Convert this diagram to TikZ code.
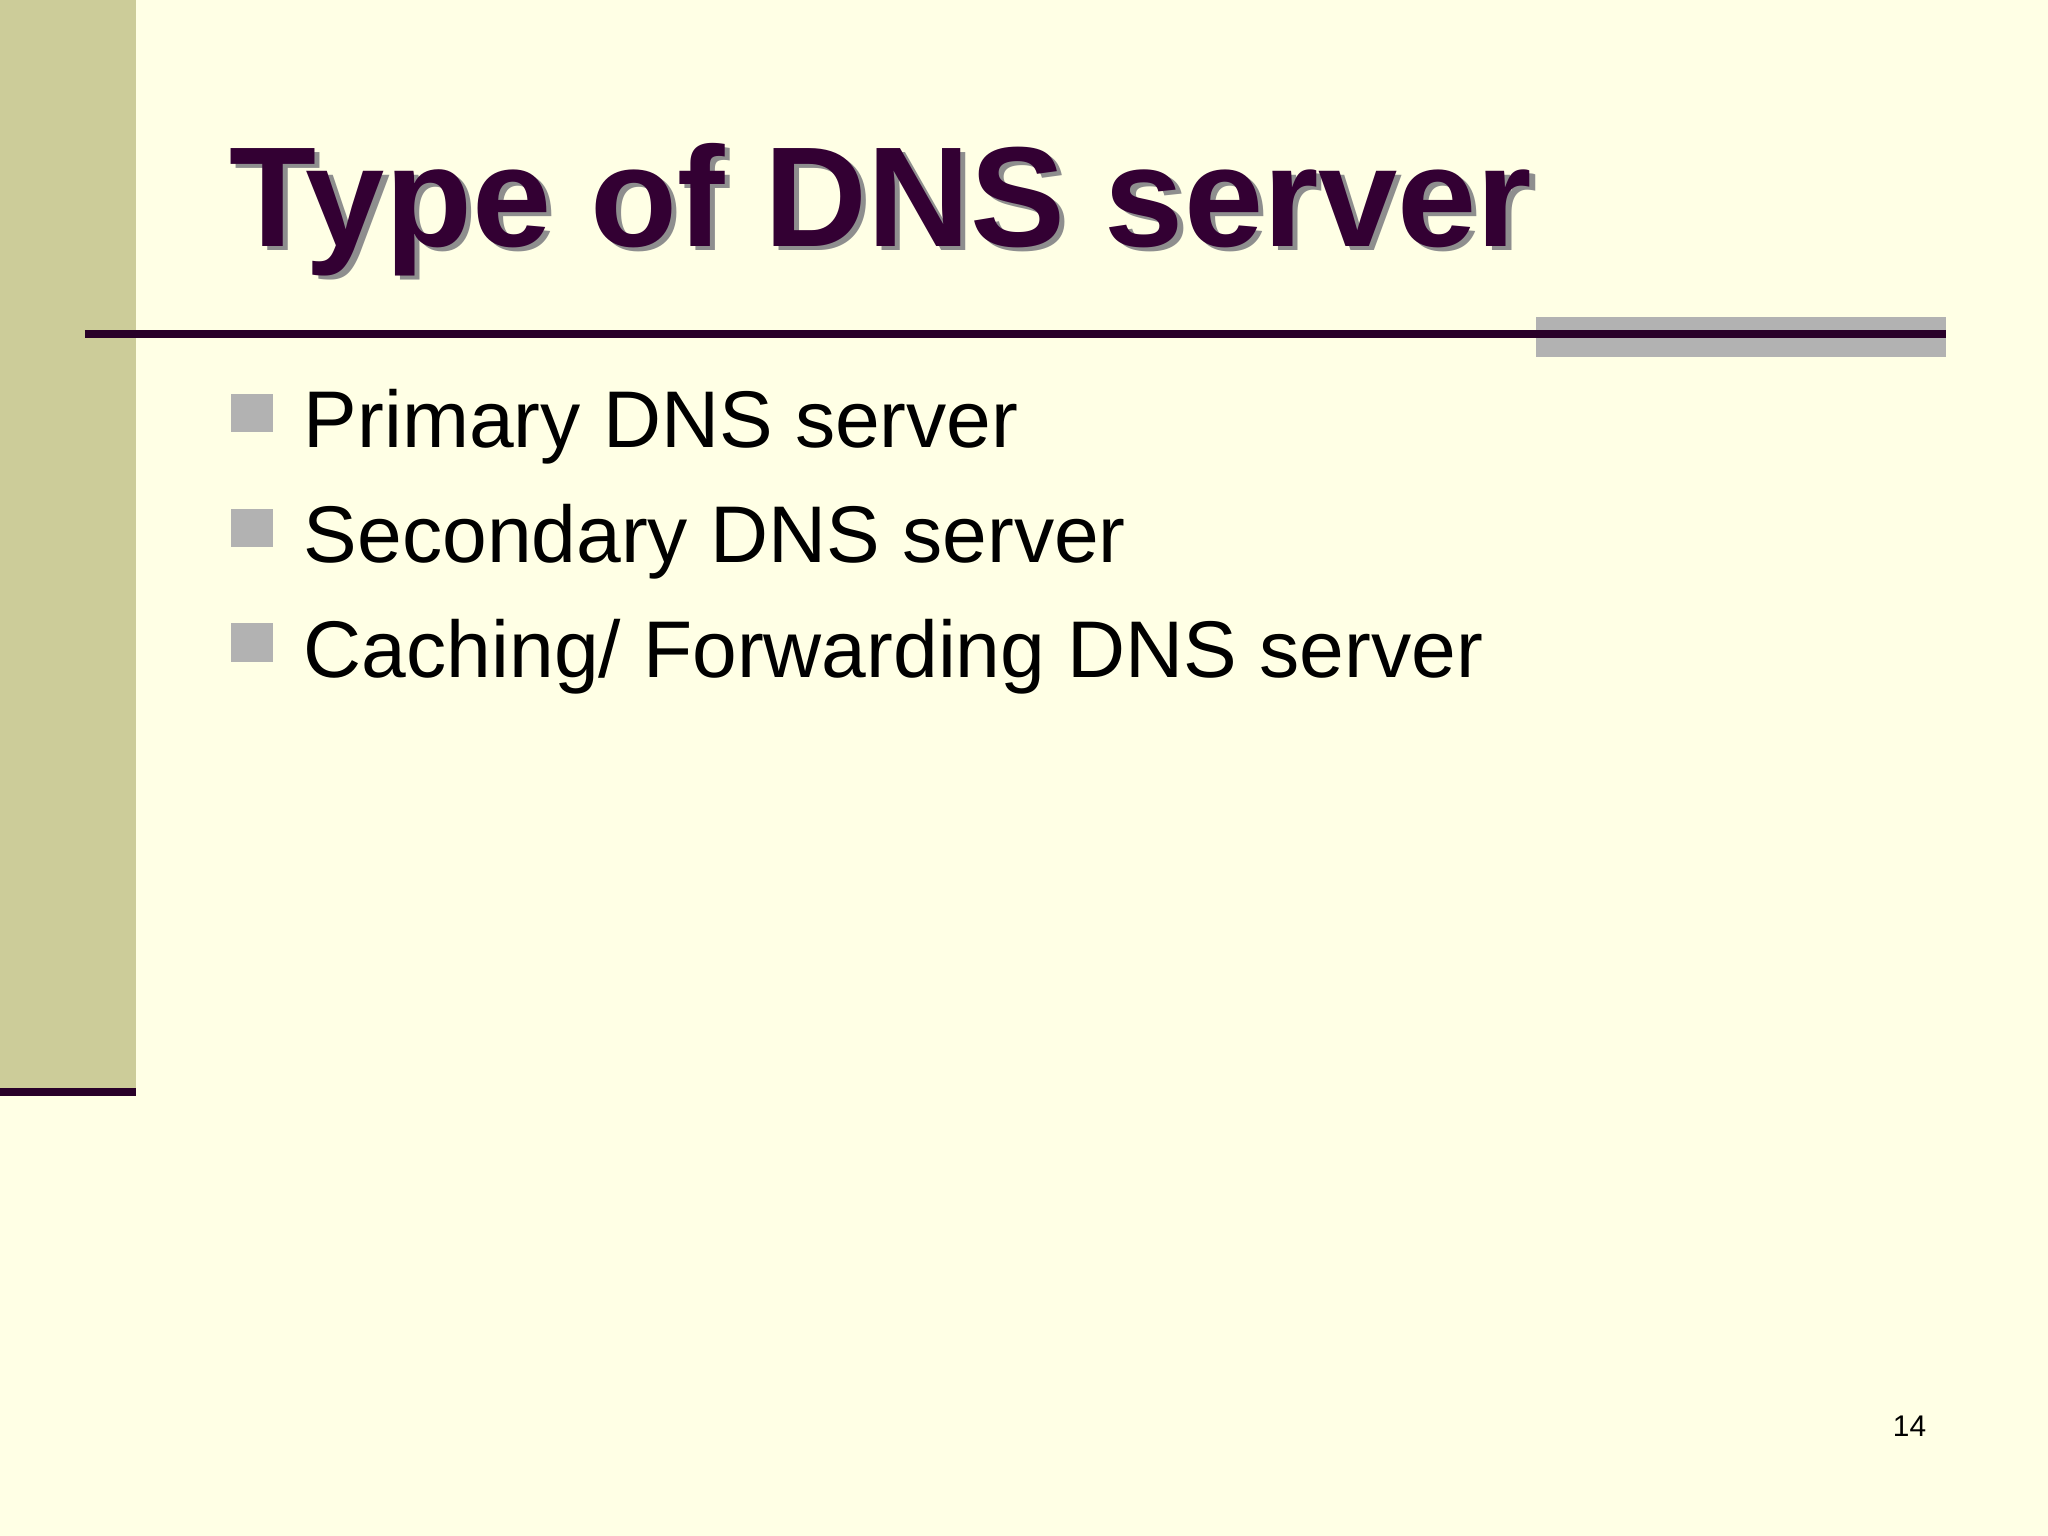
\documentclass[tikz,border=0pt]{standalone}
\usepackage{fontspec}
\setmainfont{Liberation Sans}
\definecolor{bg}{HTML}{FFFFE5}
\definecolor{tan}{HTML}{CCCC99}
\definecolor{dpurple}{HTML}{290029}
\definecolor{titlec}{HTML}{330033}
\definecolor{gr}{HTML}{B2B2B2}
\tikzset{bul/.style={fill=gr,draw=none},
 item/.style={anchor=base west,inner sep=0,font=\fontsize{17.5}{20}\selectfont}}
\begin{document}
\begin{tikzpicture}[x=0.01cm,y=-0.01cm]
\fill[bg] (0,0) rectangle (1568,1176);
\useasboundingbox (0,0) rectangle (1568,1176);
\fill[tan] (0,0) rectangle (104,833);
\fill[dpurple] (0,833) rectangle (104,839);
\node[anchor=base west,inner sep=0,text=gr!80!black,font=\bfseries\fontsize{31}{36}\selectfont] at (179,192) {Type of DNS server};
\node (title)[anchor=base west,inner sep=0,text=titlec,font=\bfseries\fontsize{31}{36}\selectfont] at (175,189) {Type of DNS server};
\fill[gr] (1176,243) rectangle (1490,273);
\draw[dpurple,line width=0.6mm] (65,256) -- (1490,256);
\fill[bul] (177,302) rectangle (209,331);
\fill[bul] (177,390) rectangle (209,419);
\fill[bul] (177,477) rectangle (209,507);
\node (i1)[item] at (232,343) {Primary DNS server};
\node (i2)[item] at (232,431) {Secondary DNS server};
\node (i3)[item] at (232,519) {Caching/ Forwarding DNS server};
\node (pg)[anchor=base,inner sep=0,font=\fontsize{6.5}{8}\selectfont] at (1462,1100) {14};
\end{tikzpicture}
\end{document}
